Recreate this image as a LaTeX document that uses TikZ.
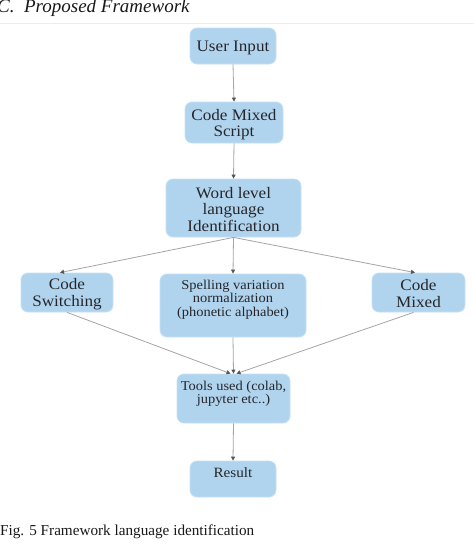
\documentclass[tikz,border=0pt]{standalone}
\usepackage{fontspec}
\setmainfont{Liberation Serif}
\newfontfamily\tnr{Liberation Serif}
\newfontfamily\boxfont[FakeStretch=1.07]{Liberation Serif}
\usetikzlibrary{arrows.meta}
\definecolor{boxblue}{RGB}{176,212,238}
\definecolor{boxedge}{RGB}{196,224,244}
\definecolor{txtgray}{RGB}{38,38,42}
\definecolor{linegray}{RGB}{165,165,165}
\definecolor{headgray}{RGB}{85,85,85}
\definecolor{captxt}{RGB}{25,25,25}
\begin{document}
\begin{tikzpicture}[x=1pt,y=-1pt,
  box/.style={draw=boxedge, fill=boxblue, rounded corners=7pt, inner sep=0pt, line width=0.8pt},
  lbl/.style={text=txtgray, align=center, inner sep=0pt, font=\boxfont\fontsize{16}{16.7}\selectfont},
  small/.style={text=txtgray, align=center, inner sep=0pt, font=\boxfont\fontsize{13.5}{13.3}\selectfont},
  conn/.style={draw=linegray, line width=0.8pt, -{Triangle[length=4pt,width=4pt,color=headgray]}},
  plain/.style={anchor=base west, inner sep=0pt, text=captxt},
]
\useasboundingbox (0,0) rectangle (474,544);
\fill[white] (0,0) rectangle (474,544);
\draw[black!7, line width=1pt] (0,23) -- (474,23);

\node[plain, font=\tnr\fontsize{19}{22}\selectfont\itshape] (title) at (-3,12) {C.\hspace{0.5em}Proposed Framework};
\node[plain, font=\tnr\fontsize{15.2}{18}\selectfont] (cap) at (0,535) {Fig. 5 Framework language identification};

\node[box, minimum width=86pt, minimum height=36pt] (ui) at (233,46) {};
\node[lbl] (uit) at ([yshift=-1.5pt]ui.center) {User Input};

\node[box, minimum width=98pt, minimum height=41pt] (cms) at (234,122.5) {};
\node[lbl] (cmst) at ([yshift=-2pt]cms.center) {Code Mixed\\Script};

\node[box, minimum width=135pt, minimum height=58pt] (wl) at (233.5,208) {};
\node[lbl] (wlt) at ([yshift=-1.5pt]wl.center) {Word level\\language\\Identification};

\node[box, minimum width=92pt, minimum height=39pt] (cs) at (67,292.5) {};
\node[lbl] (cst) at ([yshift=-2pt]cs.center) {Code\\Switching};

\node[box, minimum width=146pt, minimum height=63pt] (sp) at (233,305.5) {};
\node[small] (spt) at ([yshift=6pt]sp.center) {Spelling variation\\normalization\\(phonetic alphabet)};

\node[box, minimum width=93pt, minimum height=39pt] (cm) at (418.5,292.5) {};
\node[lbl] (cmt) at ([yshift=-1pt]cm.center) {Code\\Mixed};

\node[box, minimum width=113pt, minimum height=49pt] (tu) at (233.5,398.5) {};
\node[small] (tut) at ([yshift=4.5pt]tu.center) {Tools used (colab,\\jupyter etc..)};

\node[box, minimum width=86pt, minimum height=36pt] (rs) at (233,479) {};
\node[lbl, font=\boxfont\fontsize{14.2}{16}\selectfont] (rst) at ([yshift=6.5pt]rs.center) {Result};

\draw[conn] (ui.south) -- (cms.north);
\draw[conn] (cms.south) -- (wl.north);
\draw[conn] (wl.south) -- ([xshift=-7pt]cs.north);
\draw[conn] (wl.south) -- (sp.north);
\draw[conn] (wl.south) -- ([xshift=-3.5pt]cm.north);
\draw[conn] (cs.south) -- ([xshift=-3pt]tu.north);
\draw[conn] (sp.south) -- (tu.north);
\draw[conn] ([xshift=-5pt]cm.south) -- ([xshift=3pt]tu.north);
\draw[conn] (tu.south) -- (rs.north);
\end{tikzpicture}
\end{document}
